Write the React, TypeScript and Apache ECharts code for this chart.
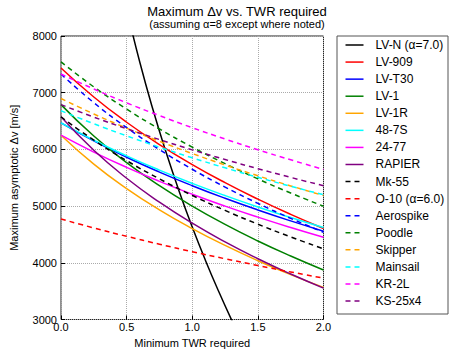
import React, { useEffect, useRef } from "react";
import * as echarts from "echarts";

// Minimum TWR required (x sample points)
const twr = [0, 0.25, 0.5, 0.75, 1.0, 1.25, 1.5, 1.75, 2.0];
// LV-N is steep, sampled more finely
const twrLVN = [0.5, 0.6, 0.7, 0.8, 0.9, 1.0, 1.1, 1.2, 1.3, 1.4];
const lvN = [8476, 7541, 6707, 5953, 5264, 4632, 4046, 3502, 2992, 2514];

// Maximum asymptotic delta-v [m/s]
const lv909 = [7436, 6924, 6479, 6086, 5733, 5414, 5123, 4854, 4606];
const lvT30 = [6467, 6149, 5862, 5600, 5360, 5138, 4932, 4739, 4558];
const lv1 = [6790, 6236, 5767, 5360, 5000, 4677, 4385, 4119, 3873];
const lv1R = [6251, 5741, 5309, 4934, 4603, 4306, 4037, 3792, 3566];
const s487S = [6467, 6162, 5886, 5634, 5401, 5186, 4985, 4798, 4621];
const s2477 = [6251, 5953, 5683, 5437, 5210, 5000, 4805, 4622, 4450];
const rapier = [6574, 5984, 5491, 5069, 4698, 4368, 4072, 3802, 3554];
const mk55 = [6574, 6163, 5802, 5480, 5189, 4924, 4681, 4456, 4246];
const o10 = [4772, 4615, 4467, 4328, 4196, 4071, 3952, 3838, 3730];
const aerospike = [7329, 6824, 6385, 5997, 5650, 5336, 5048, 4784, 4539];
const poodle = [7544, 7102, 6711, 6360, 6041, 5749, 5480, 5231, 4998];
const skipper = [6897, 6625, 6375, 6143, 5927, 5725, 5535, 5356, 5187];
const mainsail = [6682, 6452, 6239, 6039, 5852, 5675, 5508, 5350, 5200];
const kr2l = [7329, 7066, 6822, 6596, 6383, 6183, 5994, 5816, 5646];
const ks25x4 = [6790, 6570, 6365, 6174, 5992, 5822, 5660, 5506, 5360];

const yTicks = { min: 3000, max: 8000, interval: 1000 };
const xTicks = { min: 0, max: 2, interval: 0.5 };

const seriesDefs: [string, number[], number[], string, boolean][] = [
  ["LV-N (α=7.0)", twrLVN, lvN, "#000000", false],
  ["LV-909", twr, lv909, "#ff0000", false],
  ["LV-T30", twr, lvT30, "#0000ff", false],
  ["LV-1", twr, lv1, "#008000", false],
  ["LV-1R", twr, lv1R, "#ffa500", false],
  ["48-7S", twr, s487S, "#00ffff", false],
  ["24-77", twr, s2477, "#ff00ff", false],
  ["RAPIER", twr, rapier, "#800080", false],
  ["Mk-55", twr, mk55, "#000000", true],
  ["O-10 (α=6.0)", twr, o10, "#ff0000", true],
  ["Aerospike", twr, aerospike, "#0000ff", true],
  ["Poodle", twr, poodle, "#008000", true],
  ["Skipper", twr, skipper, "#ffa500", true],
  ["Mainsail", twr, mainsail, "#00ffff", true],
  ["KR-2L", twr, kr2l, "#ff00ff", true],
  ["KS-25x4", twr, ks25x4, "#800080", true],
];

const FONT = "'Liberation Sans', Arial, sans-serif";
const DASH = [5, 4];

export default function App() {
  const ref = useRef<HTMLDivElement>(null);
  useEffect(() => {
    if (!ref.current) return;
    const chart = echarts.init(ref.current, null, { renderer: "svg" });
    const series = seriesDefs.map(([name, xs, ys, color, dashed]) => ({
      name,
      type: "line",
      data: xs.map((x, i) => [x, ys[i]]),
      smooth: true,
      symbol: "none",
      clip: true,
      lineStyle: { color, width: 1.5, type: dashed ? DASH : "solid" },
      itemStyle: { color },
    }));

    // legend drawn as graphic (box, line samples, labels)
    const legX = 337, legY = 36, legW = 111, legH = 278;
    const rowY0 = 45, rowStep = 17.07;
    const legendEls: any[] = [
      {
        type: "rect",
        shape: { x: legX, y: legY, width: legW, height: legH },
        style: { fill: "#fff", stroke: "#555", lineWidth: 1 },
        z: 10,
      },
    ];
    seriesDefs.forEach(([name, , , color, dashed], i) => {
      const y = rowY0 + i * rowStep;
      legendEls.push({
        type: "line",
        shape: { x1: 345.5, y1: y, x2: 363.5, y2: y },
        style: { stroke: color, lineWidth: 1.5, lineDash: dashed ? DASH : null },
        z: 11,
      });
      legendEls.push({
        type: "text",
        x: 375.5,
        y,
        style: {
          text: name,
          fill: "#000",
          font: `12px ${FONT}`,
          textVerticalAlign: "middle",
          verticalAlign: "middle",
        },
        z: 11,
      });
    });

    chart.setOption({
      animation: false,
      backgroundColor: "#ffffff",
      textStyle: { fontFamily: FONT },
      title: [
        {
          text: "Maximum Δv vs. TWR required",
          left: "center",
          top: 0,
          textStyle: { fontSize: 13, fontWeight: "normal", color: "#000", fontFamily: FONT },
        },
        {
          text: "(assuming α=8 except where noted)",
          left: "center",
          top: 13.5,
          textStyle: { fontSize: 11, fontWeight: "normal", color: "#000", fontFamily: FONT },
        },
      ],
      grid: {
        left: 59.5,
        right: 150.5,
        top: 36,
        bottom: 35.5,
        show: true,
        borderColor: "#222",
        borderWidth: 1,
      },
      xAxis: {
        type: "value",
        ...xTicks,
        name: "Minimum TWR required",
        nameLocation: "middle",
        nameGap: 15,
        nameTextStyle: { fontSize: 11, color: "#000", fontFamily: FONT },
        axisLine: { show: false },
        axisTick: { inside: true, length: 4, lineStyle: { color: "#000" } },
        axisLabel: { fontSize: 11, color: "#000", margin: 2, formatter: (v: number) => v.toFixed(1) },
        splitLine: { show: true, lineStyle: { type: "dotted", color: "#aaaaaa", width: 1 } },
      },
      yAxis: {
        type: "value",
        ...yTicks,
        name: "Maximum asymptotic Δv [m/s]",
        nameLocation: "middle",
        nameGap: 42,
        nameTextStyle: { fontSize: 11, color: "#000", fontFamily: FONT },
        axisLine: { show: false },
        axisTick: { inside: true, length: 4, lineStyle: { color: "#000" } },
        axisLabel: { fontSize: 11, color: "#000", margin: 4, formatter: (v: number) => String(v) },
        splitLine: { show: true, lineStyle: { type: "dotted", color: "#aaaaaa", width: 1 } },
      },
      graphic: { elements: legendEls },
      series,
    });
    return () => chart.dispose();
  }, []);
  return (
    <div
      ref={ref}
      style={{ position: "fixed", left: 0, top: 0, width: 474, height: 355, background: "#fff" }}
    />
  );
}
